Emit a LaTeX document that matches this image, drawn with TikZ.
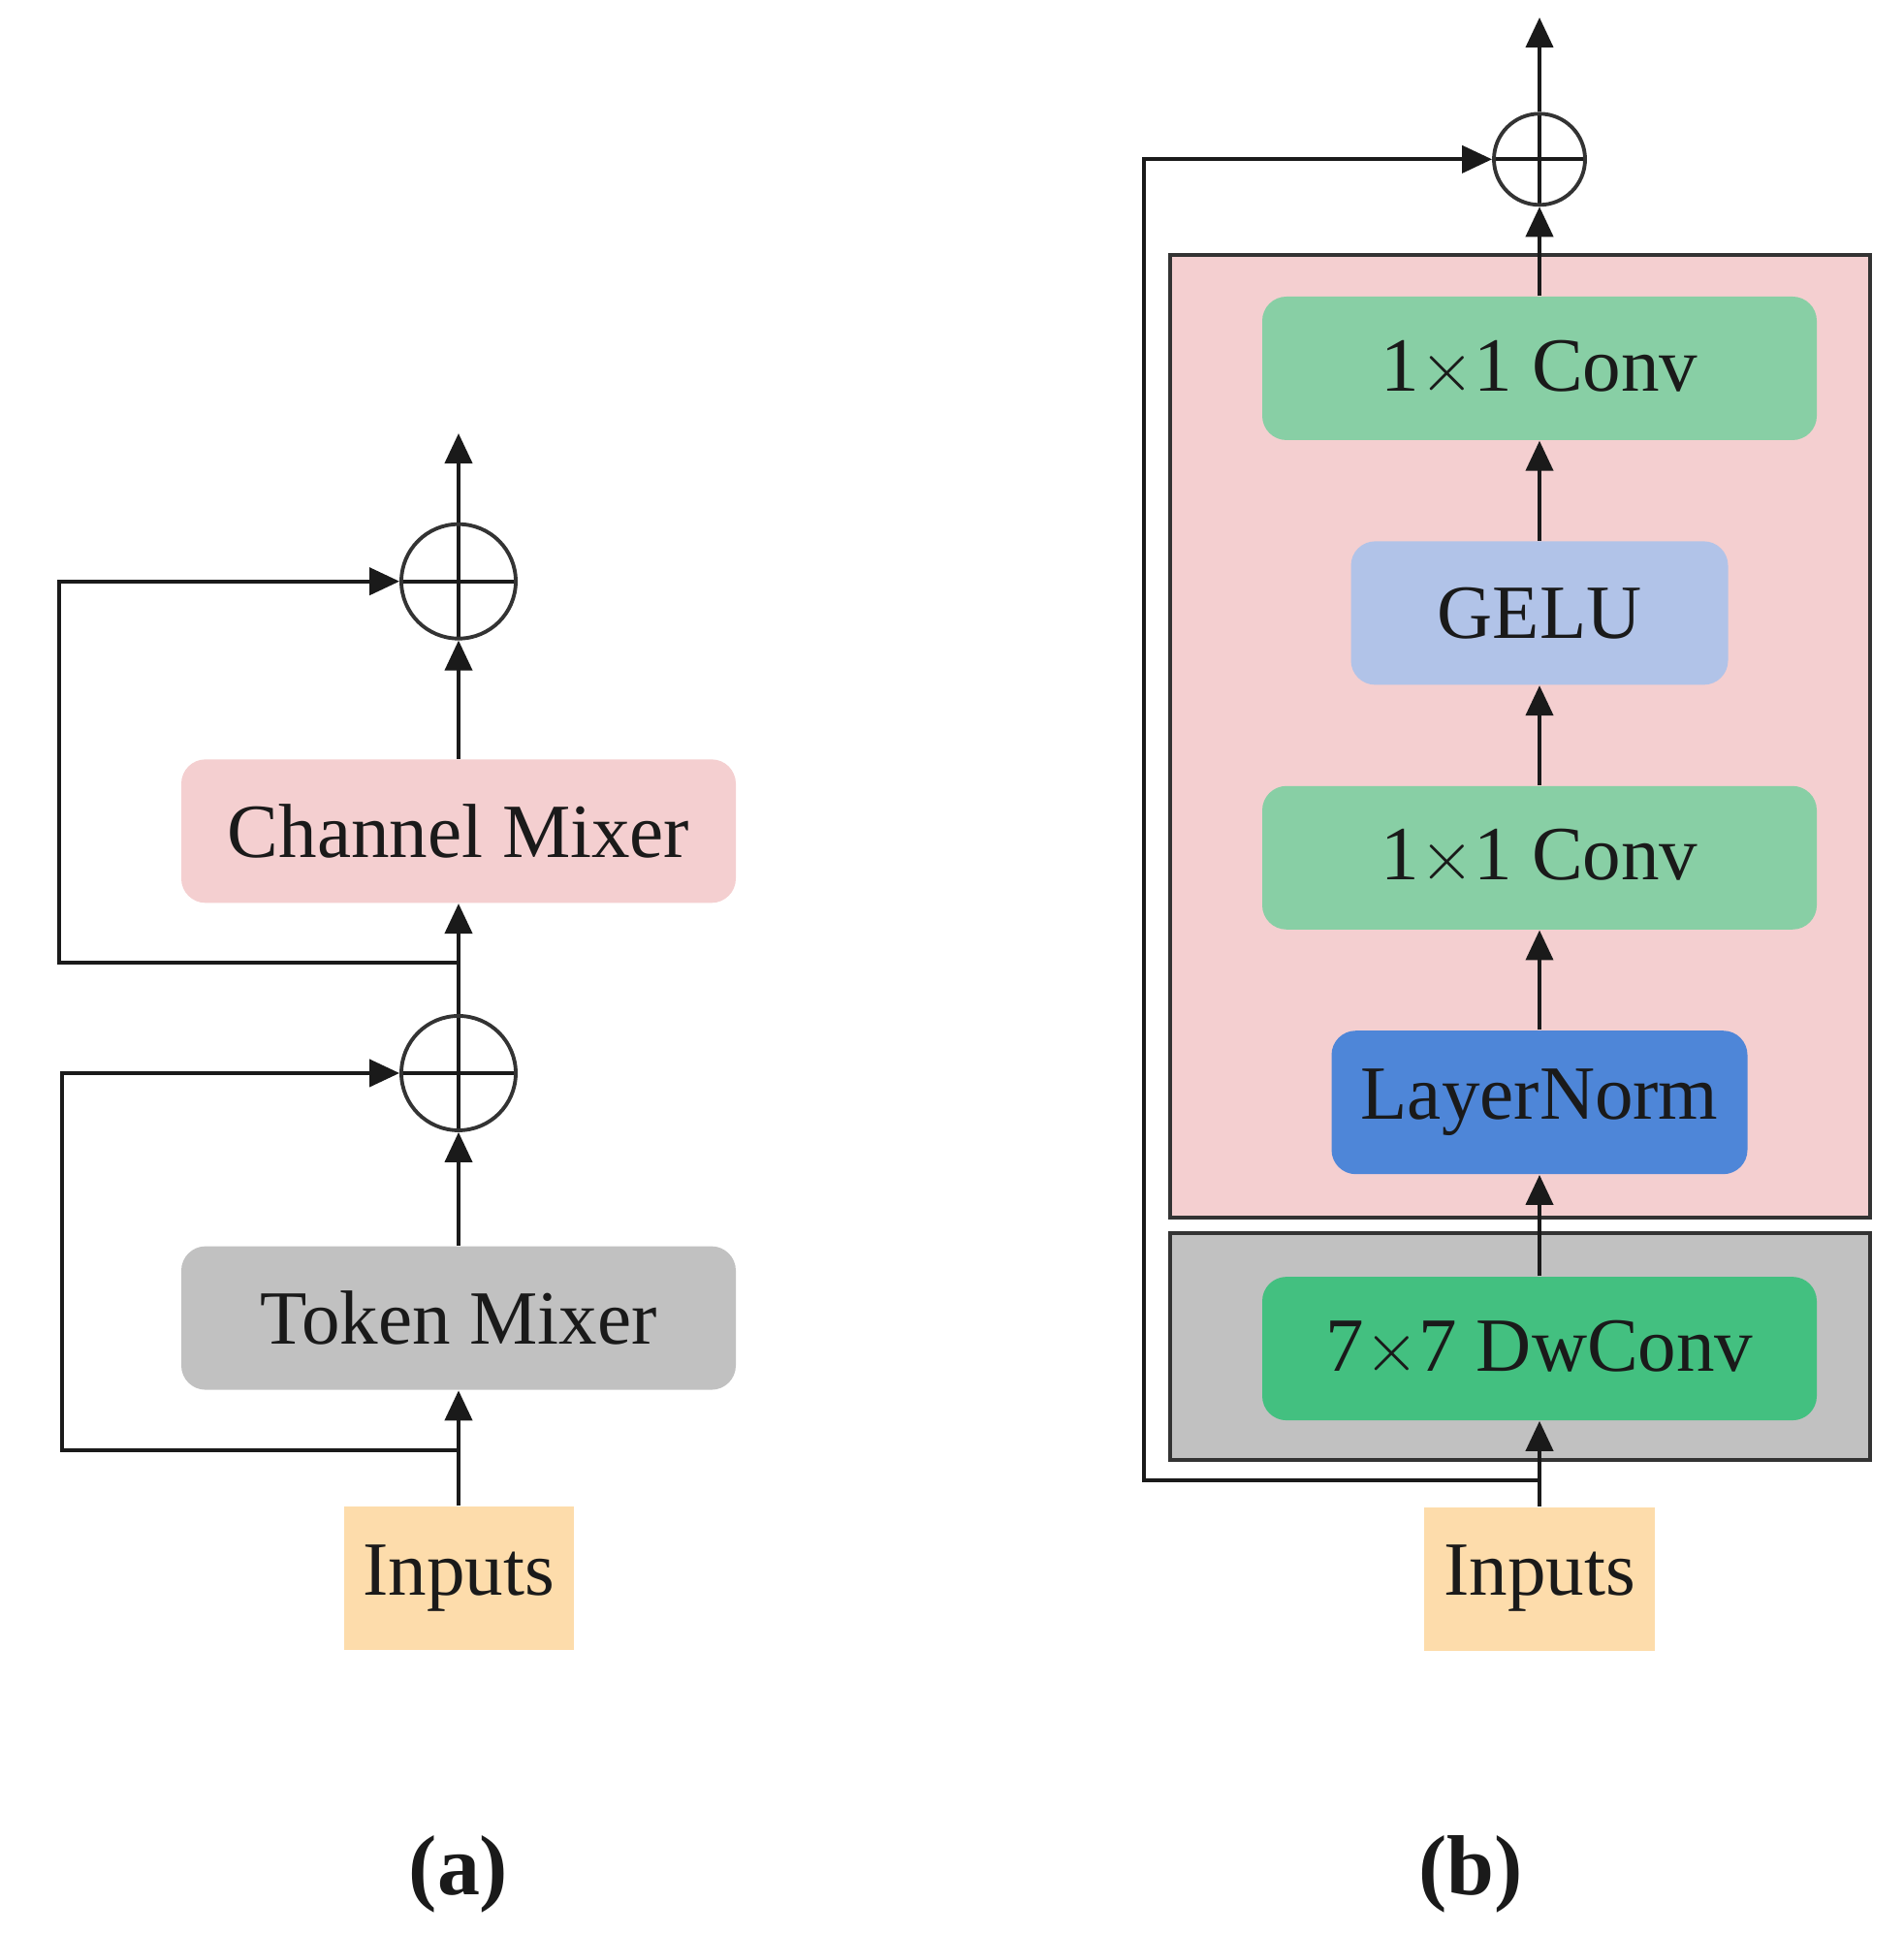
\documentclass[tikz,border=0pt]{standalone}
\usepackage{fontspec}
\setmainfont{Liberation Serif}
\usetikzlibrary{positioning, arrows.meta, shapes.geometric}

\definecolor{mixpink}{HTML}{F4CFD0}
\definecolor{mixgray}{HTML}{C1C1C1}
\definecolor{inpeach}{HTML}{FDDCAB}
\definecolor{convgreen}{HTML}{88CFA5}
\definecolor{dwgreen}{HTML}{43C080}
\definecolor{gelublue}{HTML}{B1C3E8}
\definecolor{normblue}{HTML}{4E86D8}
\definecolor{edgegray}{HTML}{333333}
\definecolor{lineblack}{HTML}{1A1A1A}

\begin{document}
\begin{tikzpicture}[
    font=\fontsize{22.5}{27}\selectfont,
    node distance=1.05cm and 1cm,
    block/.style={rectangle, rounded corners=2.5mm, minimum width=5.72cm,
                  minimum height=1.48cm, inner sep=0pt, align=center, text=lineblack},
    inbox/.style={rectangle, fill=inpeach, minimum width=2.37cm,
                  minimum height=1.48cm, inner sep=0pt, text=lineblack},
    addop/.style={circle, draw=edgegray, line width=1.1pt, inner sep=0pt,
                  path picture={\draw[lineblack, line width=1.1pt]
                     (path picture bounding box.west) -- (path picture bounding box.east)
                     (path picture bounding box.north) -- (path picture bounding box.south);}},
    arrow/.style={-{Triangle[length=3.1mm, width=2.8mm]}, line width=1.15pt, draw=lineblack},
    panel/.style={draw=edgegray, line width=1.15pt},
    caption/.style={font=\fontsize{25}{30}\selectfont\bfseries, text=lineblack}
]
\useasboundingbox (0,0) rectangle (19.64,-19.95);
% --- (a) MetaFormer ---
\node[inbox] (inA) at (4.73,-16.28) {Inputs};
\node[block, fill=mixgray, above=1.19cm of inA] (tokA) {Token Mixer};
\node[addop, minimum size=1.18cm, above=1.17cm of tokA] (addA1) {};
\node[block, fill=mixpink, above=1.14cm of addA1] (chA) {Channel Mixer};
\node[addop, minimum size=1.18cm, above=1.22cm of chA] (addA2) {};
\coordinate (outA) at (4.73,-4.47);
\coordinate (splitA1) at (4.73,-14.96);
\coordinate (splitA2) at (4.73,-9.93);
% --- (b) bloque ---
\fill[mixpink] (12.07,-2.63) rectangle (19.29,-12.56);
\draw[panel] (12.07,-2.63) rectangle (19.29,-12.56);
\fill[mixgray] (12.07,-12.72) rectangle (19.29,-15.06);
\draw[panel] (12.07,-12.72) rectangle (19.29,-15.06);
\node[inbox, minimum width=2.38cm] (inB) at (15.88,-16.285) {Inputs};
\node[block, fill=dwgreen, above=0.88cm of inB] (dwB) {7$\times$7 DwConv};
\node[block, fill=normblue, minimum width=4.29cm, above=1.045cm of dwB] (lnB) {LayerNorm};
\node[block, fill=convgreen, above=1.03cm of lnB] (c1B) {1$\times$1 Conv};
\node[block, fill=gelublue, minimum width=3.89cm, above=1.03cm of c1B] (geB) {GELU};
\node[block, fill=convgreen, above=1.03cm of geB] (c2B) {1$\times$1 Conv};
\node[addop, minimum size=0.94cm, above=0.92cm of c2B] (addB) {};
\coordinate (outB) at (15.88,-0.18);
\coordinate (splitB) at (15.88,-15.27);
% --- Flechas ---
\foreach \a/\b in {inA/tokA, tokA/addA1, addA1/chA, chA/addA2,
                   inB/dwB, dwB/lnB, lnB/c1B, c1B/geB, geB/c2B, c2B/addB}
    \draw[arrow] (\a.north) -- (\b.south);
\draw[arrow] (addA2.north) -- (outA);
\draw[arrow] (addB.north) -- (outB);
% --- Atajos ---
\draw[arrow] (splitA1) -- ++(-4.09,0) |- (addA1.west);
\draw[arrow] (splitA2) -- ++(-4.12,0) |- (addA2.west);
\draw[arrow] (splitB) -- ++(-4.08,0) |- (addB.west);
% --- Etiquetas ---
\node[caption] (capA) at (4.73,-19.33) {(a)};
\node[caption] (capB) at (15.17,-19.33) {(b)};
\end{tikzpicture}
\end{document}
